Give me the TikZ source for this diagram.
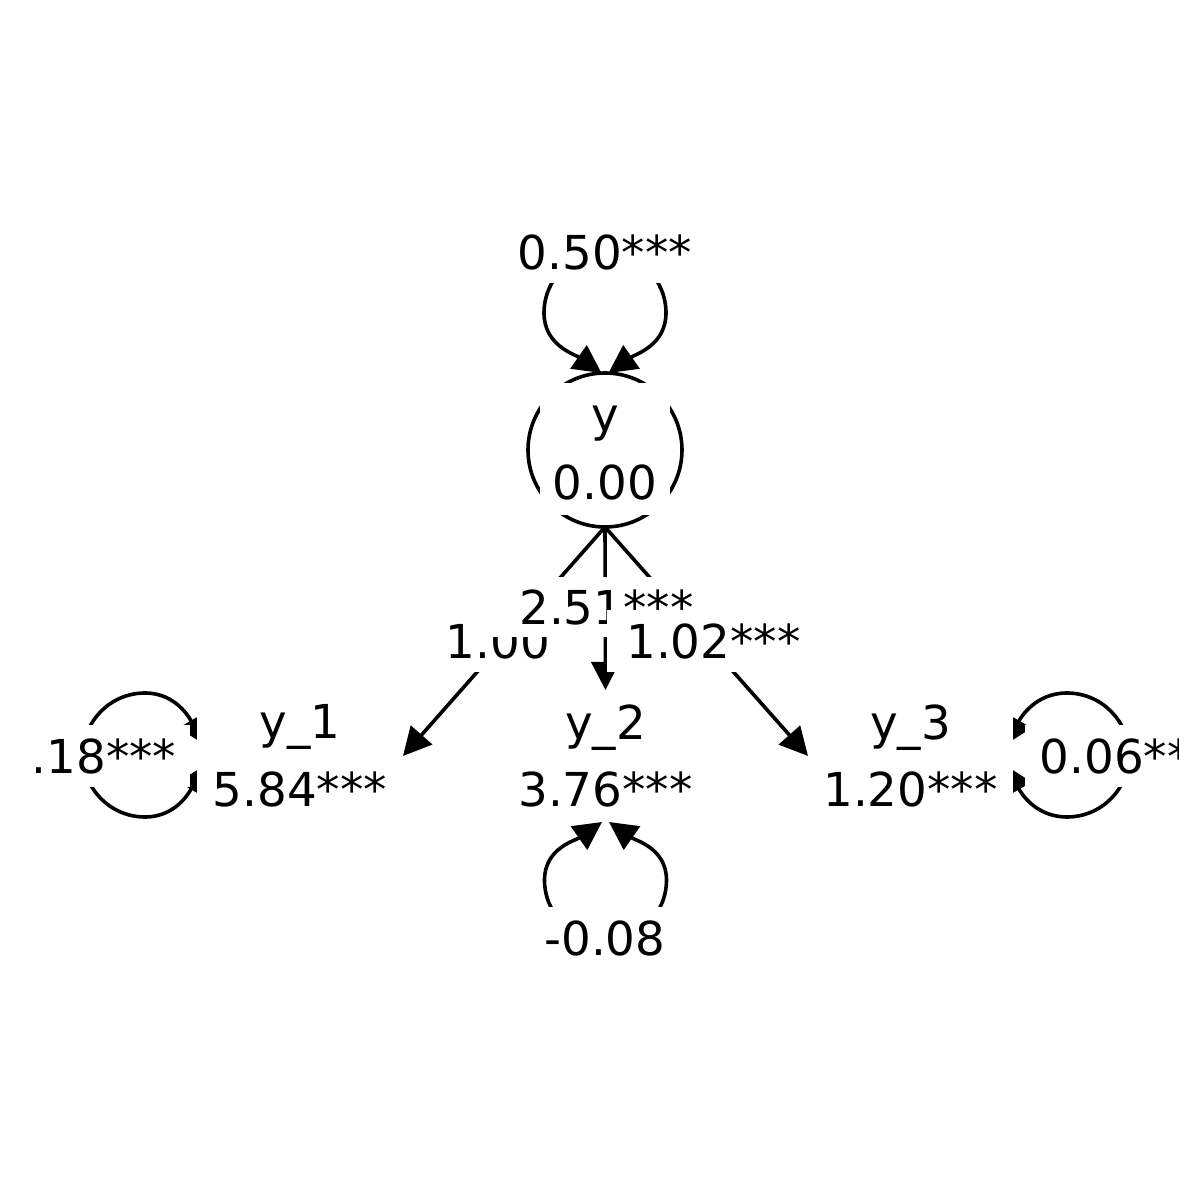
\documentclass[tikz,border=0pt]{standalone}
\usepackage{fontspec}
\setmainfont{DejaVu Sans}
\usetikzlibrary{arrows.meta,calc}
\pgfdeclarelayer{bg}
\pgfsetlayers{bg,main}
\begin{document}
\begin{tikzpicture}[
  line width=0.036cm,
  every node/.style={font=\fontsize{13.3}{19.3}\selectfont, inner sep=0pt, outer sep=0pt},
  nodebox/.style={fill=white, align=center, minimum height=1.32cm},
  labbox/.style={fill=white, minimum height=0.62cm},
  arr/.style={line width=0.036cm, -{Triangle[length=8pt,width=8pt]}},
  darr/.style={line width=0.036cm, {Triangle[length=8pt,width=8pt]}-{Triangle[length=8pt,width=8pt]}},
]
\useasboundingbox (0,0) rectangle (12,12);
\clip (0,0) rectangle (11.78,12);
% latent variable
\node[circle, draw, minimum size=1.54cm] (y) at (6.05,7.50) {};
\node[nodebox, minimum width=1.30cm] (ylab) at (6.05,7.51) {y\vphantom{1}\\0.00};
% observed variables
\node[nodebox, minimum width=2.06cm] (y1) at (3.00,4.44) {y\_1\\5.84***};
\node[nodebox, minimum width=2.06cm] (y2) at (6.055,4.44) {y\_2\\3.76***};
\node[nodebox, minimum width=2.05cm] (y3) at (9.105,4.44) {y\_3\\1.20***};
% loop end points
\coordinate (ya) at ($(y.north)+(-0.035,0)$);
\coordinate (yb) at ($(y.north)+(0.035,0)$);
\coordinate (y2a) at ($(y2.south)+(-0.035,0)$);
\coordinate (y2b) at ($(y2.south)+(0.035,0)$);
\coordinate (y1a) at ($(y1.west)+(0.08,0.11)$);
\coordinate (y1b) at ($(y1.west)+(0.08,-0.09)$);
\coordinate (y3a) at ($(y3.east)+(-0.08,0.11)$);
\coordinate (y3b) at ($(y3.east)+(-0.08,-0.09)$);
\begin{pgfonlayer}{bg}
\begin{scope}[line width=0.036cm]
  \draw[arr] (y.south) -- (y1.east);
  \draw[arr] (y.south) -- (y2.north);
  \draw[arr] (y.south) -- (y3.west);
  \draw[darr] (ya) to[out=145,in=270] ++(-0.575,0.60)
     arc[start angle=180,end angle=0,radius=0.61] to[out=270,in=35] (yb);
  \draw[darr] (y2a) to[out=215,in=90] ++(-0.575,-0.58)
     arc[start angle=180,end angle=360,radius=0.61] to[out=90,in=-35] (y2b);
  \draw[darr] (y1a) to[out=120,in=0] ++(-0.60,0.52)
     arc[start angle=90,end angle=270,radius=0.62] to[out=0,in=240] (y1b);
  \draw[darr] (y3a) to[out=60,in=180] ++(0.62,0.52)
     arc[start angle=90,end angle=-90,radius=0.62] to[out=180,in=300] (y3b);
\end{scope}
\end{pgfonlayer}
% variance labels
\node[labbox, minimum width=2.04cm] (v0) at (6.05,9.48) {0.50***};
\node[labbox, minimum width=1.50cm] (v2) at (6.05,2.62) {-0.08};
\node[labbox, minimum width=1.72cm] (v1) at (1.04,4.44) {.18***};
\node[labbox, minimum width=2.05cm] (v3) at (11.27,4.44) {0.06***};
% loading labels
\node[labbox, minimum width=1.30cm] (l1) at (4.98,5.59) {1.00};
\node[labbox, minimum width=2.60cm, minimum height=0.60cm] (l2) at (6.065,5.93) {2.51***};
\node[labbox, minimum width=2.13cm] (l3) at (7.135,5.59) {1.02***};
\end{tikzpicture}
\end{document}
